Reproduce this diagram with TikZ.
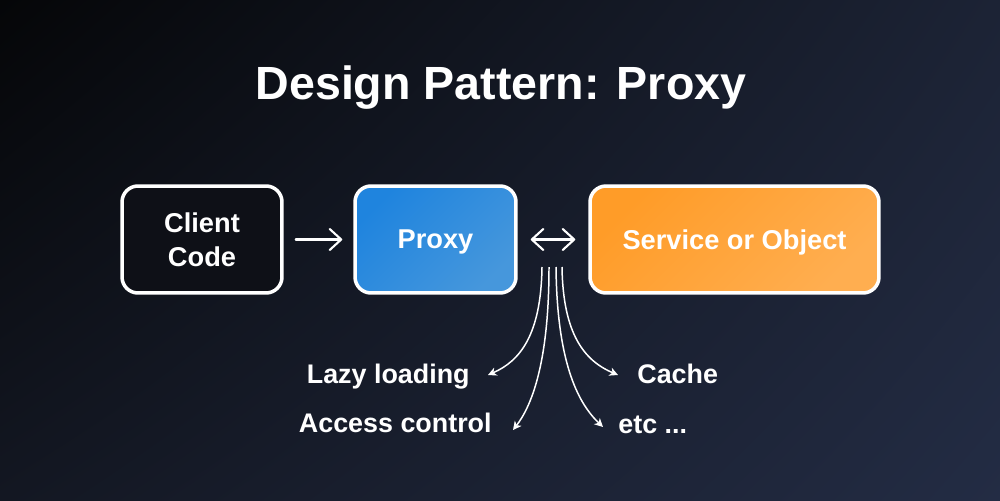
\documentclass[tikz,border=0pt]{standalone}
\usepackage{fontspec}
\setmainfont{Liberation Sans}
\usetikzlibrary{arrows.meta, calc, shadings}

\definecolor{bgdark}{HTML}{050608}
\definecolor{bgtopright}{HTML}{1C2335}
\definecolor{bgbottomleft}{HTML}{131722}
\definecolor{bgnavy}{HTML}{232C44}
\definecolor{clientfill}{HTML}{0E1017}
\definecolor{proxytop}{HTML}{1F84DE}
\definecolor{proxybottom}{HTML}{4697DC}
\definecolor{servicetop}{HTML}{FF9C28}
\definecolor{servicebottom}{HTML}{FFAE50}

\begin{document}
\begin{tikzpicture}[x=0.02cm, y=-0.02cm,
    box/.style={draw=white, line width=2pt, rounded corners=0.32cm, minimum height=2.14cm,
        text=white, align=center, text depth=0pt,
        font=\fontsize{15.5}{19.3}\selectfont\bfseries},
    client/.style={box, fill=clientfill, minimum width=3.2cm},
    proxy/.style={box, top color=proxytop, bottom color=proxybottom, shading angle=45, minimum width=3.22cm},
    service/.style={box, top color=servicetop, bottom color=servicebottom, shading angle=45, minimum width=5.78cm},
    tag/.style={text=white, inner sep=0pt, font=\fontsize{15.3}{18}\selectfont\bfseries},
    flow/.style={white, line width=1.2pt, line cap=round},
    branch/.style={white, line width=0.85pt, -{Stealth[length=1.7mm, width=1.7mm, inset=0.5mm]}}]

% background
\shade[upper left=bgdark, upper right=bgtopright, lower left=bgbottomleft, lower right=bgnavy]
    (0,0) rectangle (1000,500);
\useasboundingbox (0,0) rectangle (1000,500);

\node[text=white, inner sep=0pt, anchor=base, font=\fontsize{26.5}{30}\selectfont\bfseries]
    at (501, 99.5) (title) {Design Pattern: Proxy};

\node[client]  at (202, 239.5)   (client)  {Client\\Code};
\node[proxy]   at (435.5, 239.5) (proxy)   {Proxy};
\node[service] at (734.5, 239.5) (service) {Service or Object};

\node[tag, anchor=base east] at (470, 383) (lazy)   {Lazy loading};
\node[tag, anchor=base east] at (492, 432) (access) {Access control};
\node[tag, anchor=base west] at (637, 383) (cache)  {Cache};
\node[tag, anchor=base west] at (618, 433) (etc)    {etc ...};

\coordinate (s1) at (542, 267);
\coordinate (s2) at (549, 267);
\coordinate (s3) at (556, 267);
\coordinate (s4) at (562, 267);

\draw[flow, -{Straight Barb[length=2.3mm, width=4.2mm, round]}, shorten <=12*0.02cm, shorten >=11*0.02cm]
    (client) -- (proxy);
\draw[flow, {Straight Barb[length=2.3mm, width=4.2mm, round]}-{Straight Barb[length=2.3mm, width=4.2mm, round]},
    shorten <=13*0.02cm, shorten >=13*0.02cm]
    (proxy) -- (service);

\draw[branch] (s1) .. controls +(-1, 68) and +(32, -14) .. ($(lazy.base east)+(18, -8)$);
\draw[branch] (s2) .. controls +(0, 100) and +(17, -22) .. ($(access.base east)+(21, -2)$);
\draw[branch] (s3) .. controls +(1, 100) and +(-23, -22) .. ($(etc.base west)+(-15, -6)$);
\draw[branch] (s4) .. controls +(1, 68) and +(-33, -14) .. ($(cache.base west)+(-19, -8)$);

\end{tikzpicture}
\end{document}
